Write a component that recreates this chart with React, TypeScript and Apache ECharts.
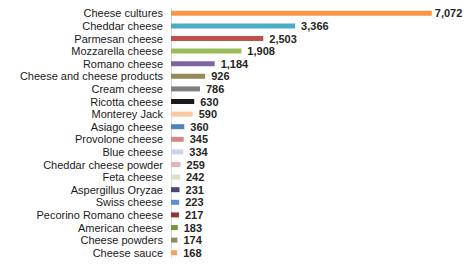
import React, { useEffect, useRef } from "react";
import * as echarts from "echarts";

const categories = [
  "Cheese cultures",
  "Cheddar cheese",
  "Parmesan cheese",
  "Mozzarella cheese",
  "Romano cheese",
  "Cheese and cheese products",
  "Cream cheese",
  "Ricotta cheese",
  "Monterey Jack",
  "Asiago cheese",
  "Provolone cheese",
  "Blue cheese",
  "Cheddar cheese powder",
  "Feta cheese",
  "Aspergillus Oryzae",
  "Swiss cheese",
  "Pecorino Romano cheese",
  "American cheese",
  "Cheese powders",
  "Cheese sauce",
];

const values = [7072, 3366, 2503, 1908, 1184, 926, 786, 630, 590, 360, 345, 334, 259, 242, 231, 223, 217, 183, 174, 168];

const colors = [
  "#F79646", "#4BACC6", "#C0504D", "#9BBB59", "#8064A2",
  "#948A54", "#7F7F7F", "#1A1A1A", "#FAC9A4", "#4F81BD",
  "#D08A84", "#C9D6EA", "#E3B4B8", "#D7E4C3", "#4A4577",
  "#5B90D0", "#943634", "#77933C", "#8E8C5C", "#F4A25E",
];

export default function App() {
  const ref = useRef<HTMLDivElement>(null);
  useEffect(() => {
    if (!ref.current) return;
    const chart = echarts.init(ref.current, null, { renderer: "svg" });
    chart.setOption({
      animation: false,
      grid: { left: 171, right: 8, top: 7, bottom: 7, containLabel: false },
      xAxis: {
        type: "value",
        min: 0,
        max: 8000,
        show: false,
      },
      yAxis: {
        type: "category",
        inverse: true,
        data: categories,
        axisLine: { show: true, lineStyle: { color: "#D9D9D9", width: 1 } },
        axisTick: { show: false },
        axisLabel: {
          interval: 0,
          margin: 8,
          fontFamily: "Liberation Sans, Arial, sans-serif",
          fontSize: 11,
          color: "#1a1a1a",
        },
      },
      series: [
        {
          type: "bar",
          barWidth: 5,
          data: values.map((v, i) => ({
            value: v,
            itemStyle: { color: colors[i] },
            label: i === 0 ? { distance: 3 } : undefined,
          })),
          label: {
            show: true,
            position: "right",
            distance: 6,
            fontFamily: "Liberation Sans, Arial, sans-serif",
            fontSize: 11,
            fontWeight: "bold",
            color: "#262626",
            formatter: (p: any) => Number(p.value).toLocaleString("en-US"),
          },
        },
      ],
    });
    return () => chart.dispose();
  }, []);
  return <div ref={ref} style={{ width: 474, height: 266, margin: -8 }} />;
}
